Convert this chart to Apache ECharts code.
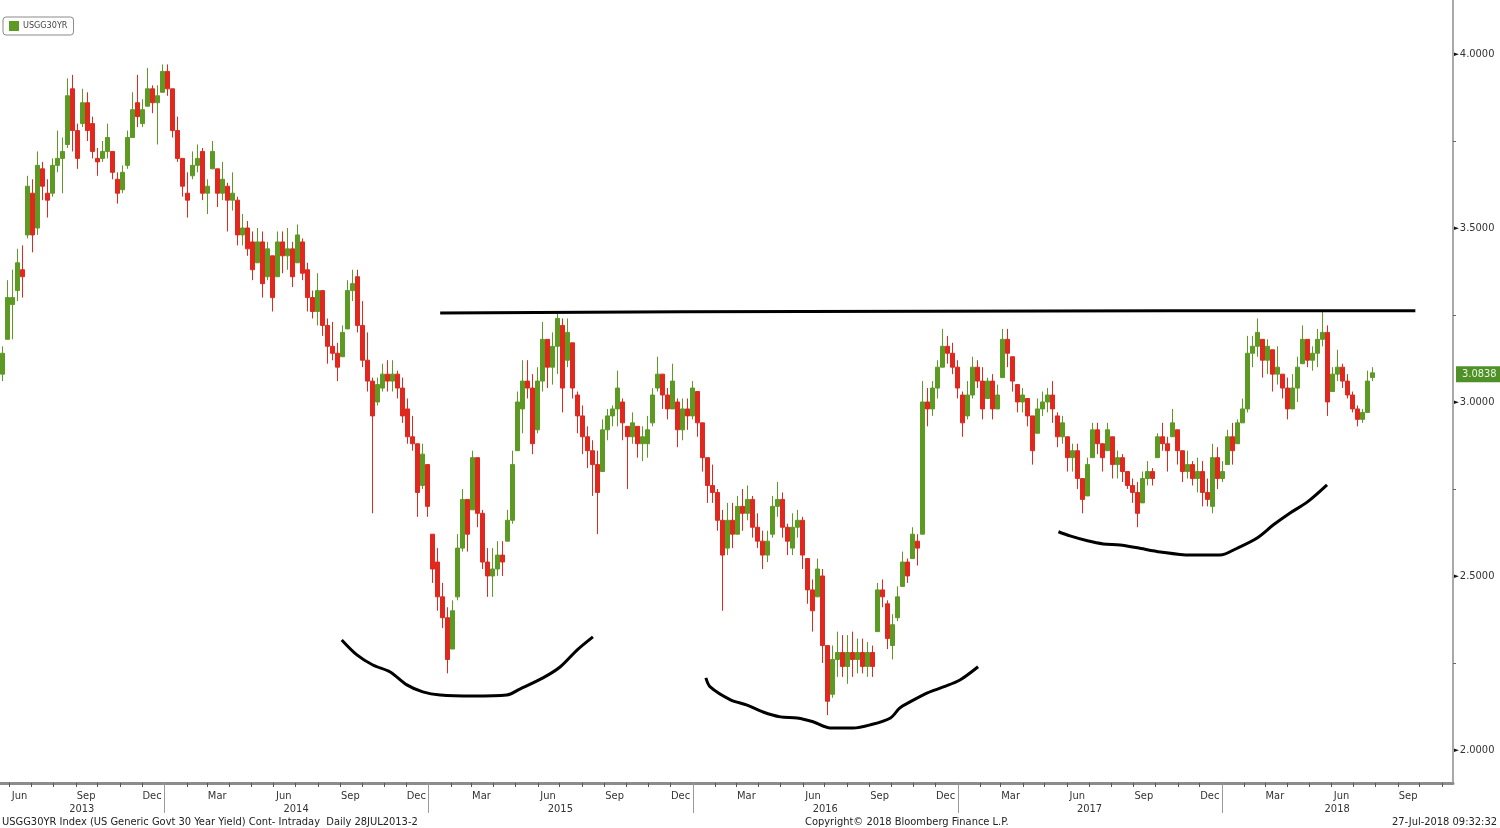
<!DOCTYPE html>
<html><head><meta charset="utf-8">
<script src="https://cdn.jsdelivr.net/npm/echarts@6/dist/echarts.min.js"></script>
<style>html,body{margin:0;padding:0;background:#fff}#c{width:1500px;height:828px}</style>
</head><body><div id="c"></div>
<script>
const seriesName = 'USGG30YR';
// roughly weekly OHLC periods (May 2013 - Jul 2018)
const opens = [
3.08,3.18,3.28,3.32,3.38,3.48,3.60,3.50,3.67,3.60,
3.60,3.68,3.70,3.74,3.90,3.78,3.80,3.86,3.80,3.70,
3.70,3.72,3.72,3.64,3.61,3.68,3.76,3.86,3.80,3.85,
3.90,3.86,3.89,3.95,3.90,3.78,3.70,3.60,3.65,3.68,
3.72,3.60,3.67,3.67,3.60,3.62,3.58,3.58,3.48,3.50,
3.46,3.40,3.46,3.36,3.42,3.36,3.46,3.42,3.44,3.40,
3.46,3.38,3.30,3.26,3.32,3.22,3.16,3.14,3.13,3.21,
3.32,3.36,3.22,3.12,3.06,3.00,3.04,3.08,3.06,3.08,
3.04,2.98,2.90,2.88,2.76,2.82,2.62,2.54,2.44,2.38,
2.29,2.44,2.58,2.72,2.69,2.84,2.68,2.54,2.50,2.52,
2.56,2.60,2.66,2.86,2.98,3.06,3.04,2.92,3.06,3.18,
3.10,3.16,3.22,3.12,3.17,3.02,2.96,2.90,2.86,2.82,
2.80,2.92,2.96,2.98,3.00,2.93,2.90,2.93,2.88,2.88,
2.94,3.04,3.08,3.02,2.98,3.00,2.92,2.98,2.96,3.03,
2.94,2.84,2.76,2.74,2.66,2.58,2.66,2.62,2.70,2.68,
2.72,2.64,2.60,2.56,2.62,2.70,2.72,2.64,2.58,2.64,
2.66,2.55,2.46,2.44,2.50,2.30,2.16,2.26,2.28,2.24,
2.28,2.26,2.28,2.24,2.28,2.34,2.46,2.42,2.30,2.38,
2.47,2.54,2.55,2.60,2.62,3.00,2.98,3.04,3.10,3.16,
3.14,3.10,3.02,2.96,3.02,3.10,3.06,3.01,3.06,2.98,
3.07,3.18,3.13,3.05,3.00,3.01,2.96,2.91,2.98,3.00,
3.02,2.96,2.90,2.90,2.84,2.86,2.78,2.73,2.84,2.92,
2.88,2.86,2.90,2.82,2.84,2.80,2.76,2.74,2.71,2.78,
2.80,2.84,2.90,2.88,2.90,2.92,2.86,2.80,2.82,2.78,
2.80,2.74,2.70,2.84,2.78,2.82,2.90,2.88,2.94,2.98,
3.14,3.16,3.18,3.12,3.15,3.08,3.08,3.04,2.98,3.04,
3.11,3.18,3.12,3.14,3.18,3.20,3.03,3.08,3.10,3.06,
3.02,2.98,2.95,2.97,3.07
];
const closes = [
3.14,3.30,3.30,3.40,3.36,3.62,3.48,3.68,3.62,3.58,
3.68,3.70,3.72,3.88,3.78,3.70,3.86,3.78,3.72,3.69,
3.72,3.76,3.66,3.60,3.66,3.76,3.84,3.82,3.84,3.90,
3.86,3.88,3.95,3.90,3.78,3.70,3.62,3.58,3.68,3.70,
3.60,3.62,3.72,3.60,3.64,3.58,3.60,3.48,3.50,3.44,
3.38,3.46,3.34,3.44,3.30,3.46,3.42,3.44,3.36,3.48,
3.37,3.30,3.26,3.32,3.22,3.16,3.14,3.10,3.20,3.32,
3.34,3.22,3.12,3.06,2.96,3.05,3.08,3.06,3.08,3.04,
2.96,2.90,2.88,2.74,2.85,2.70,2.52,2.44,2.38,2.26,
2.40,2.58,2.72,2.62,2.84,2.68,2.54,2.50,2.52,2.56,
2.54,2.66,2.82,3.00,3.06,3.04,2.88,3.06,3.18,3.10,
3.16,3.24,3.04,3.20,3.04,2.96,2.90,2.86,2.82,2.74,
2.92,2.96,2.98,3.04,2.94,2.90,2.94,2.88,2.90,2.92,
3.02,3.08,3.02,2.98,3.06,2.92,2.98,2.96,3.04,2.94,
2.84,2.76,2.74,2.66,2.56,2.66,2.62,2.70,2.68,2.72,
2.64,2.60,2.56,2.60,2.70,2.72,2.64,2.60,2.64,2.66,
2.56,2.46,2.40,2.52,2.30,2.14,2.26,2.28,2.24,2.28,
2.26,2.28,2.24,2.28,2.24,2.46,2.44,2.32,2.36,2.44,
2.54,2.50,2.62,2.58,3.00,2.98,3.04,3.10,3.16,3.14,
3.10,3.04,2.94,3.02,3.10,3.06,2.98,3.06,2.98,3.02,
3.18,3.14,3.06,3.00,3.02,2.96,2.86,2.98,3.00,3.02,
2.98,2.90,2.94,2.84,2.86,2.78,2.72,2.82,2.92,2.88,
2.84,2.92,2.82,2.84,2.80,2.76,2.74,2.68,2.78,2.80,
2.78,2.90,2.88,2.86,2.94,2.86,2.80,2.82,2.78,2.80,
2.74,2.72,2.84,2.78,2.80,2.90,2.86,2.94,2.98,3.14,
3.16,3.20,3.12,3.16,3.08,3.10,3.04,2.98,3.04,3.10,
3.18,3.12,3.14,3.18,3.20,3.00,3.08,3.10,3.06,3.02,
2.98,2.95,2.97,3.06,3.0838
];
const lows = [
3.06,3.18,3.18,3.29,3.30,3.47,3.43,3.48,3.58,3.53,
3.59,3.66,3.60,3.73,3.72,3.67,3.79,3.75,3.70,3.65,
3.69,3.70,3.64,3.57,3.60,3.67,3.76,3.79,3.79,3.85,
3.83,3.74,3.89,3.88,3.76,3.69,3.59,3.53,3.64,3.66,
3.58,3.54,3.67,3.56,3.58,3.49,3.55,3.45,3.45,3.42,
3.35,3.40,3.30,3.35,3.26,3.36,3.37,3.38,3.33,3.40,
3.35,3.26,3.24,3.22,3.19,3.11,3.12,3.06,3.13,3.21,
3.29,3.20,3.10,3.03,2.68,2.99,3.03,3.03,3.03,3.01,
2.94,2.88,2.86,2.67,2.75,2.67,2.48,2.40,2.35,2.22,
2.29,2.43,2.57,2.57,2.69,2.64,2.52,2.44,2.44,2.50,
2.50,2.60,2.65,2.86,2.91,3.01,2.85,2.91,3.03,3.04,
3.05,3.08,2.97,3.10,3.01,2.91,2.85,2.81,2.73,2.62,
2.80,2.89,2.93,2.93,2.89,2.75,2.88,2.84,2.83,2.84,
2.93,3.03,2.98,2.95,2.98,2.87,2.89,2.92,2.95,2.90,
2.80,2.71,2.71,2.63,2.40,2.56,2.58,2.62,2.63,2.66,
2.61,2.58,2.52,2.54,2.61,2.67,2.61,2.56,2.56,2.61,
2.52,2.42,2.34,2.44,2.25,2.10,2.15,2.21,2.21,2.19,
2.21,2.22,2.22,2.21,2.21,2.34,2.41,2.29,2.26,2.37,
2.47,2.48,2.55,2.53,2.62,2.93,2.96,3.01,3.10,3.11,
3.08,3.01,2.90,2.95,3.01,3.04,2.95,3.01,2.95,2.98,
3.07,3.10,3.03,2.97,2.97,2.93,2.82,2.91,2.96,2.97,
2.94,2.87,2.88,2.80,2.80,2.75,2.68,2.73,2.84,2.85,
2.80,2.86,2.78,2.78,2.77,2.75,2.71,2.64,2.71,2.76,
2.76,2.84,2.86,2.80,2.90,2.82,2.77,2.78,2.76,2.74,
2.70,2.70,2.68,2.75,2.77,2.82,2.82,2.88,2.94,2.97,
3.10,3.13,3.07,3.08,3.03,3.05,3.01,2.95,2.98,3.00,
3.11,3.10,3.09,3.10,3.16,2.96,3.03,3.06,3.04,3.01,
2.97,2.93,2.94,2.97,3.06
];
const highs = [
3.16,3.35,3.38,3.44,3.45,3.65,3.64,3.72,3.69,3.64,
3.70,3.78,3.76,3.93,3.94,3.80,3.90,3.89,3.82,3.73,
3.75,3.80,3.72,3.66,3.68,3.78,3.89,3.94,3.87,3.96,
3.91,3.91,3.97,3.97,3.90,3.82,3.70,3.66,3.72,3.74,
3.73,3.64,3.75,3.67,3.69,3.63,3.66,3.59,3.54,3.52,
3.49,3.50,3.49,3.46,3.42,3.49,3.49,3.50,3.46,3.51,
3.47,3.40,3.32,3.37,3.32,3.24,3.23,3.17,3.22,3.35,
3.38,3.38,3.29,3.20,3.07,3.07,3.11,3.12,3.12,3.09,
3.07,3.01,2.96,2.88,2.88,2.82,2.62,2.58,2.48,2.41,
2.43,2.62,2.75,2.72,2.86,2.84,2.69,2.58,2.58,2.60,
2.60,2.69,2.86,3.03,3.12,3.12,3.08,3.10,3.23,3.18,
3.20,3.26,3.24,3.24,3.17,3.03,2.99,2.93,2.89,2.86,
2.95,2.98,2.99,3.09,3.01,2.93,2.97,2.93,2.93,2.96,
3.04,3.13,3.08,3.04,3.11,3.01,3.01,3.01,3.06,3.03,
2.94,2.84,2.82,2.75,2.69,2.71,2.71,2.73,2.75,2.76,
2.73,2.68,2.63,2.63,2.73,2.77,2.74,2.65,2.68,2.69,
2.67,2.55,2.49,2.55,2.52,2.30,2.30,2.34,2.33,2.33,
2.34,2.32,2.32,2.31,2.30,2.48,2.49,2.43,2.39,2.47,
2.57,2.55,2.64,2.62,3.06,3.04,3.06,3.12,3.21,3.19,
3.17,3.12,3.03,3.06,3.13,3.12,3.10,3.07,3.08,3.05,
3.21,3.21,3.13,3.05,3.04,3.01,2.96,3.01,3.03,3.04,
3.06,2.97,2.96,2.90,2.88,2.88,2.78,2.84,2.94,2.94,
2.88,2.94,2.90,2.86,2.85,2.80,2.78,2.77,2.80,2.83,
2.81,2.91,2.94,2.90,2.98,2.92,2.86,2.86,2.83,2.84,
2.83,2.78,2.88,2.87,2.83,2.92,2.94,2.95,3.01,3.19,
3.19,3.24,3.18,3.18,3.15,3.16,3.08,3.07,3.08,3.13,
3.22,3.18,3.16,3.21,3.26,3.22,3.10,3.15,3.11,3.08,
3.03,2.99,2.98,3.09,3.10
];
const lastValue = 3.0838;

// axis ticks and labels
const yLabelValues = [2.0, 2.5, 3.0, 3.5, 4.0];
const yMinorTickValues = [2.25, 2.75, 3.25, 3.75];
const yMin = 1.905, yMax = 4.1552;
const axisStart = '2013-05-19', axisEnd = '2018-11-16';
const monthNames = ['Jan','Feb','Mar','Apr','May','Jun','Jul','Aug','Sep','Oct','Nov','Dec'];
const monthLabelDates = ['2013-06-15','2013-09-15','2013-12-15',
  '2014-03-15','2014-06-15','2014-09-15','2014-12-15',
  '2015-03-15','2015-06-15','2015-09-15','2015-12-15',
  '2016-03-15','2016-06-15','2016-09-15','2016-12-15',
  '2017-03-15','2017-06-15','2017-09-15','2017-12-15',
  '2018-03-15','2018-06-15','2018-09-15'];
const yearLabelDates = ['2013-09-09','2014-07-02','2015-07-02','2016-07-02','2017-07-02','2018-06-09'];
const yearBoundaryDates = ['2014-01-01','2015-01-01','2016-01-01','2017-01-01','2018-01-01'];

// hand-drawn annotations [date, yield]
const resistanceLine = [['2015-01-17',3.256],['2015-12-18',3.259],['2017-10-21',3.262],['2018-09-25',3.262]];
const bowl2015 = [['2014-09-03',2.316],['2014-09-24',2.273],['2014-10-16',2.244],['2014-11-09',2.224],['2014-12-02',2.187],['2014-12-24',2.167],['2015-01-17',2.158],['2015-03-03',2.155],['2015-04-19',2.158],['2015-05-07',2.175],['2015-06-08',2.207],['2015-07-02',2.239],['2015-07-25',2.287],['2015-08-16',2.325]];
const bowl2016 = [['2016-01-19',2.207],['2016-01-25',2.181],['2016-02-22',2.144],['2016-03-16',2.129],['2016-04-07',2.109],['2016-05-01',2.095],['2016-05-24',2.092],['2016-06-15',2.081],['2016-07-09',2.063],['2016-08-09',2.063],['2016-09-02',2.072],['2016-09-30',2.092],['2016-10-13',2.121],['2016-10-27',2.138],['2016-11-20',2.164],['2016-12-12',2.181],['2017-01-04',2.201],['2017-01-29',2.239]];
const bowl2017 = [['2017-05-20',2.627],['2017-06-05',2.615],['2017-06-29',2.601],['2017-07-21',2.592],['2017-08-13',2.589],['2017-09-06',2.581],['2017-10-08',2.569],['2017-11-18',2.560],['2017-12-29',2.560],['2018-01-23',2.581],['2018-02-19',2.610],['2018-03-13',2.647],['2018-04-05',2.681],['2018-04-29',2.713],['2018-05-26',2.762]];

const footerLeft = 'USGG30YR Index (US Generic Govt 30 Year Yield) Cont- Intraday  Daily 28JUL2013-2';
const footerCenter = 'Copyright\u00a9 2018 Bloomberg Finance L.P.';
const footerRight = '27-Jul-2018 09:32:32';

// ---------- build ----------
function ts(s){ const p = s.split('-').map(Number); return new Date(p[0], p[1]-1, p[2]).getTime(); }
const monthTickDates = [];
for (let y = 2013; y <= 2018; y++) {
  for (let m = 1; m <= 12; m++) {
    const s = y + '-' + String(m).padStart(2,'0') + '-01';
    if (s >= '2013-06-01' && s <= '2018-11-01') monthTickDates.push(s);
  }
}
const periods = opens.map((_, i) => 'P' + (i + 1));
const candleData = opens.map((o, i) => [o, closes[i], lows[i], highs[i]]);
const toPts = arr => arr.map(p => [ts(p[0]), p[1]]);

const FONT = '"Liberation Sans Narrow","DejaVu Sans Condensed","Liberation Sans",sans-serif';
const UP = '#5c9a24', DOWN = '#e0281e';

const chart = echarts.init(document.getElementById('c'), null, {renderer: 'canvas'});
const annStyle = {color: '#000', width: 3};
chart.setOption({
  animation: false,
  backgroundColor: '#fff',
  textStyle: {fontFamily: FONT},
  title: [
    {text: footerLeft, left: 2, top: 817, padding: 0, textStyle: {fontSize: 11, fontWeight: 'normal', color: '#222', fontFamily: FONT}},
    {text: footerCenter, left: 805, top: 817, padding: 0, textStyle: {fontSize: 11, fontWeight: 'normal', color: '#222', fontFamily: FONT}},
    {text: footerRight, right: 3, top: 817, padding: 0, textStyle: {fontSize: 11, fontWeight: 'normal', color: '#222', fontFamily: FONT}}
  ],
  legend: {
    left: 3, top: 17, selectedMode: false,
    data: [{name: seriesName, icon: 'rect', itemStyle: {color: UP}}],
    itemWidth: 8, itemHeight: 8, itemGap: 4,
    padding: [4, 6, 4, 6],
    borderColor: '#8a8a8a', borderWidth: 1, borderRadius: 3,
    textStyle: {fontSize: 9, color: '#444', fontFamily: FONT}
  },
  grid: [
    {left: 0, right: 125, top: 0, bottom: 45},
    {left: 0, right: 47, top: 0, bottom: 45}
  ],
  xAxis: [
    {type: 'category', gridIndex: 0, data: periods, show: false, boundaryGap: true},
    {type: 'value', gridIndex: 1, min: ts(axisStart), max: ts(axisEnd), position: 'bottom',
      axisLine: {onZero: false, lineStyle: {color: '#8c8c8c', width: 3}},
      axisTick: {customValues: monthTickDates.map(ts), length: 4, lineStyle: {color: '#555'}},
      axisLabel: {customValues: monthLabelDates.map(ts), formatter: v => monthNames[new Date(v).getMonth()],
        margin: 8, fontSize: 11, color: '#333', fontFamily: FONT, hideOverlap: false},
      splitLine: {show: false}},
    {type: 'value', gridIndex: 1, min: ts(axisStart), max: ts(axisEnd), position: 'bottom',
      axisLine: {show: false, onZero: false},
      axisTick: {customValues: yearBoundaryDates.map(ts), length: 30, lineStyle: {color: '#9a9a9a'}},
      axisLabel: {customValues: yearLabelDates.map(ts), formatter: v => String(new Date(v).getFullYear()),
        margin: 21, fontSize: 11, color: '#333', fontFamily: FONT, hideOverlap: false},
      splitLine: {show: false}}
  ],
  yAxis: [
    {type: 'value', gridIndex: 0, position: 'right', offset: 78, min: yMin, max: yMax,
      axisLine: {show: true, lineStyle: {color: '#8c8c8c', width: 1.5}},
      axisTick: {show: false}, splitLine: {show: false},
      axisLabel: {customValues: yLabelValues, margin: 1, fontSize: 11, color: '#333', fontFamily: FONT,
        formatter: v => '{t|\u25BA}' + v.toFixed(4),
        rich: {t: {fontSize: 7, color: '#111', padding: [0, 1, 0, 0]}}}},
    {type: 'value', gridIndex: 0, position: 'right', offset: 78, min: yMin, max: yMax,
      axisLine: {show: false}, splitLine: {show: false}, axisLabel: {show: false},
      axisTick: {show: true, customValues: yMinorTickValues, length: 3, lineStyle: {color: '#666'}}},
    {type: 'value', gridIndex: 1, min: yMin, max: yMax, show: false}
  ],
  series: [
    {name: seriesName, type: 'candlestick', xAxisIndex: 0, yAxisIndex: 0, data: candleData,
      barWidth: 4,
      itemStyle: {color: UP, color0: DOWN, borderColor: UP, borderColor0: DOWN, borderWidth: 1}},
    {type: 'line', xAxisIndex: 1, yAxisIndex: 2, data: toPts(resistanceLine), showSymbol: false, silent: true, clip: false, lineStyle: annStyle,
      markLine: {symbol: ['none', 'none'], silent: true, animation: false,
        lineStyle: {color: 'rgba(0,0,0,0)', width: 1, type: 'solid'},
        data: [{yAxis: lastValue}],
        label: {show: true, position: 'end', distance: 3, formatter: lastValue.toFixed(4),
          backgroundColor: '#4f9128', color: '#eaf6e0', padding: [3, 7, 2, 6],
          fontSize: 11, fontFamily: FONT}}},
    {type: 'line', xAxisIndex: 1, yAxisIndex: 2, data: toPts(bowl2015), showSymbol: false, silent: true, smooth: 0.3, lineStyle: annStyle},
    {type: 'line', xAxisIndex: 1, yAxisIndex: 2, data: toPts(bowl2016), showSymbol: false, silent: true, smooth: 0.3, lineStyle: annStyle},
    {type: 'line', xAxisIndex: 1, yAxisIndex: 2, data: toPts(bowl2017), showSymbol: false, silent: true, smooth: 0.3, lineStyle: annStyle}
  ]
});
</script>
</body></html>
